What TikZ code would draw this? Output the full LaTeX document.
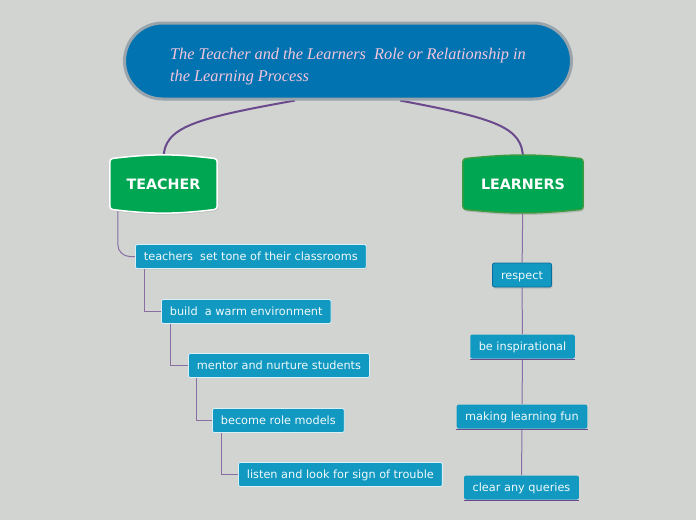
\documentclass[tikz,border=0pt]{standalone}
\usepackage{fontspec}
\setmainfont{Liberation Serif}
\setsansfont{DejaVu Sans}
\usetikzlibrary{shadows}

\definecolor{bgcol}{HTML}{D2D4D1}
\definecolor{titlefill}{HTML}{0173B1}
\definecolor{titleline}{HTML}{9AA4AC}
\definecolor{titletext}{HTML}{F5C6DC}
\definecolor{mainfill}{HTML}{00A651}
\definecolor{mainline}{HTML}{3B9B43}
\definecolor{subfill}{HTML}{1299C1}
\definecolor{subline}{HTML}{0B6C9C}
\definecolor{linkcol}{HTML}{6A4A8C}

\pgfdeclarelayer{back}
\pgfdeclarelayer{bg}
\pgfsetlayers{back,bg,main}

\begin{document}
\begin{tikzpicture}[x=1pt, y=-1pt,
  title node/.style={rounded corners=38pt, fill=titlefill, draw=titleline, line width=3pt, minimum width=447pt, minimum height=76pt, align=left, text=titletext, font=\itshape\fontsize{16.3}{22}\selectfont},
  main node/.style={minimum height=50pt, text=white, font=\sffamily\bfseries\fontsize{14.3}{16}\selectfont},
  sub node/.style={rounded corners=2pt, fill=subfill, draw=white!85!subfill, line width=0.8pt, minimum height=24pt, inner xsep=8.5pt, text height=9.5pt, text depth=1.5pt, text=white!94!subfill, font=\sffamily\fontsize{11.3}{13}\selectfont},
  link/.style={draw=linkcol!80!white, line width=1pt},
  thick link/.style={draw=linkcol, line width=2pt},
  under line/.style={draw=linkcol, line width=1pt}]

  % page
  \begin{pgfonlayer}{back}
    \fill[bgcol] (0,0) rectangle (696,520);
  \end{pgfonlayer}
  \useasboundingbox (0,0) rectangle (696,520);

  % central topic
  \node[title node] (title) at (348,61) {\rule{0pt}{22pt}The Teacher and the Learners\ \ Role or Relationship in\\the Learning Process};

  % main topics
  \node[main node, minimum width=107pt] (teacher) at (163.5,184) {TEACHER};
  \node[main node, minimum width=120pt] (learners) at (523,184) {LEARNERS};
  \begin{pgfonlayer}{bg}
    \path[fill=mainfill, draw=white, line width=1.5pt, rounded corners=3pt, drop shadow={opacity=0.25, shadow xshift=1pt, shadow yshift=-1.5pt}]
      (teacher.north west) to[bend left=7] (teacher.north east) -- (teacher.south east) to[bend left=7] (teacher.south west) -- cycle;
    \path[fill=mainfill, draw=mainline, line width=1.5pt, rounded corners=3pt, drop shadow={opacity=0.3, shadow xshift=1pt, shadow yshift=-2pt}]
      (learners.north west) to[bend left=6] (learners.north east) -- (learners.south east) to[bend left=6] (learners.south west) -- cycle;
  \end{pgfonlayer}

  % teacher subtopics
  \node[sub node, anchor=west, drop shadow={opacity=0.2, shadow xshift=1pt, shadow yshift=-1pt}] (t1) at (135,256.5) {teachers\ \ set tone of their classrooms};
  \node[sub node, anchor=west] (t2) at (161,311.5) {build\ \ a warm environment};
  \node[sub node, anchor=west] (t3) at (188,365.5) {mentor and nurture students};
  \node[sub node, anchor=west] (t4) at (212,420.5) {become role models};
  \node[sub node, anchor=west] (t5) at (238,474.5) {listen and look for sign of trouble};

  % learner subtopics
  \node[sub node, draw=subline, drop shadow={opacity=0.3, shadow xshift=1pt, shadow yshift=-1.5pt}] (l1) at (522,275) {respect};
  \node[sub node, draw=none] (l2) at (522.5,346.5) {be inspirational};
  \node[sub node, draw=none] (l3) at (522,416.5) {making learning fun};
  \node[sub node, draw=none] (l4) at (521.5,487.5) {clear any queries};
  \foreach \n in {l2,l3,l4}
    \draw[under line] ([yshift=-0.5pt]\n.south west) -- ([yshift=-0.5pt]\n.south east);

  % connectors
  \begin{pgfonlayer}{back}
    \draw[thick link] ([xshift=-53pt]title.south) .. controls +(-100,18) and +(0,-32) .. (teacher.north);
    \draw[thick link] ([xshift=52pt]title.south) .. controls +(95,18) and +(0,-32) .. (learners.north);
    \draw[link, rounded corners=12pt] ([xshift=8pt]teacher.south west) |- (t1.west);
    \draw[link] ([xshift=9pt]t1.south west) |- (t2.west);
    \draw[link] ([xshift=9pt]t2.south west) |- (t3.west);
    \draw[link] ([xshift=8pt]t3.south west) |- (t4.west);
    \draw[link] ([xshift=9pt]t4.south west) |- (t5.west);
    \draw[link] (learners) -- (l1);
    \draw[link] (l1) -- (l2);
    \draw[link] (l2) -- (l3);
    \draw[link] (l3) -- (l4);
  \end{pgfonlayer}
\end{tikzpicture}
\end{document}
